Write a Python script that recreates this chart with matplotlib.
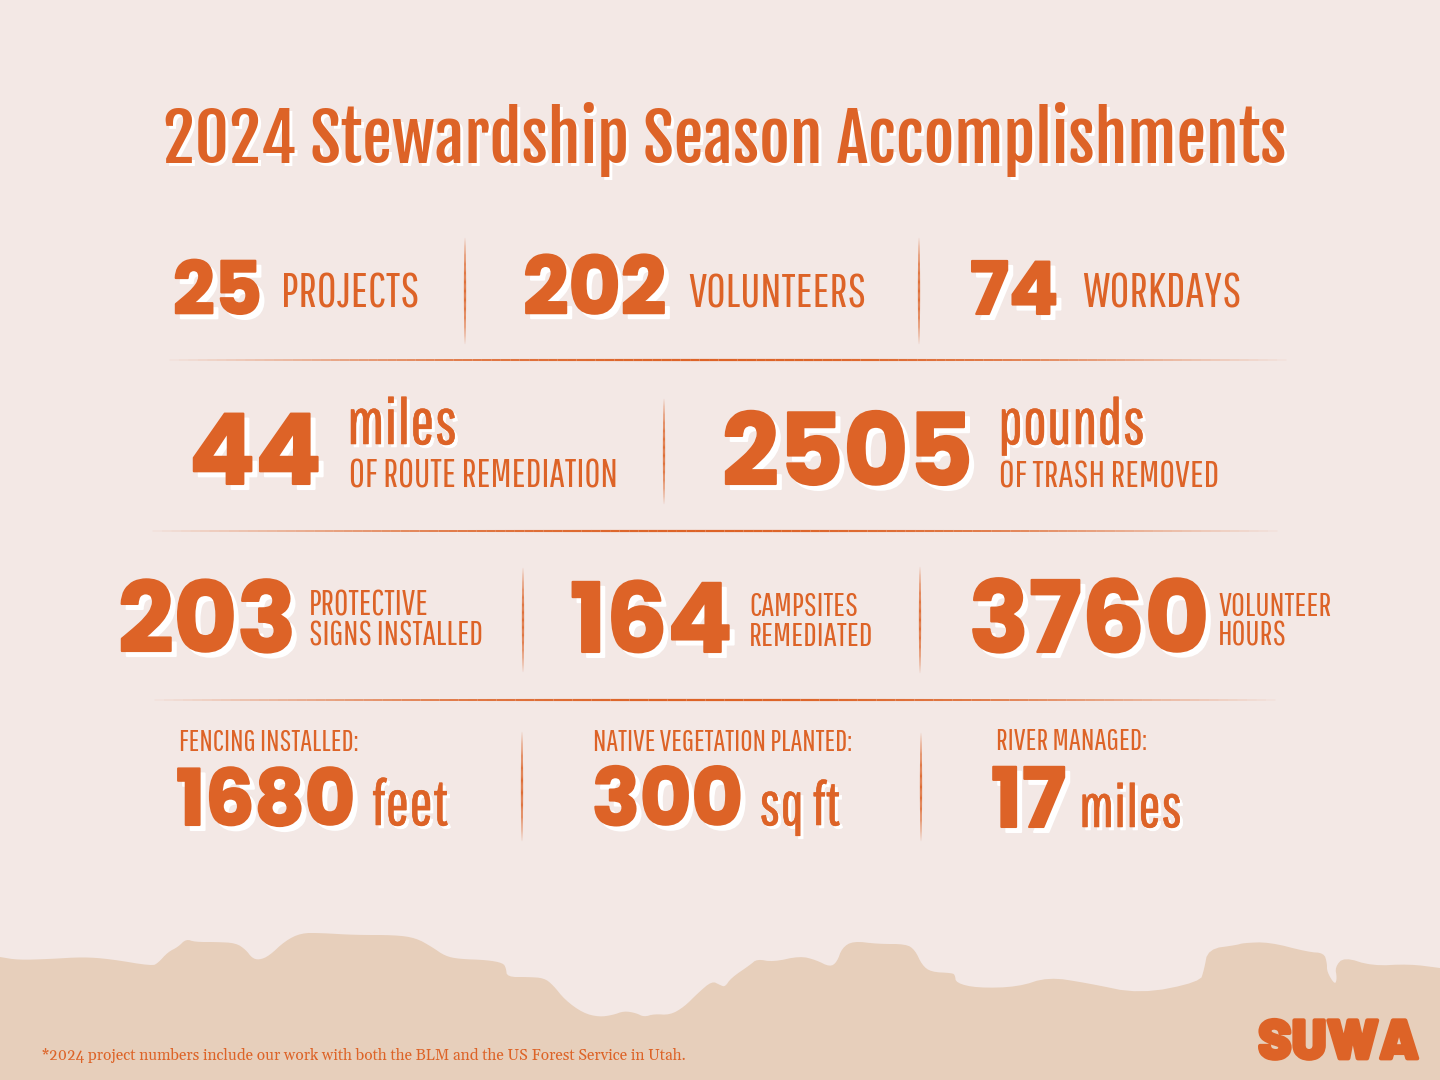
import numpy as np
import matplotlib
matplotlib.use('Agg')
import matplotlib.pyplot as plt
import matplotlib.patheffects as pe
from matplotlib.collections import LineCollection

BG = '#F3E8E5'
RIDGE = '#E7CFBB'
ORANGE = '#DD6327'
HEAVY = ['Poppins', 'DejaVu Sans']
NARROW = ['Pathway Gothic One', 'DejaVu Sans']
TITLE = ['Fjalla One', 'DejaVu Sans']
SERIF = ['Gelasio', 'Liberation Serif']
LOGO = ['Barlow', 'Poppins', 'DejaVu Sans']

title = '2024 Stewardship Season Accomplishments'
footnote = '*2024 project numbers include our work with both the BLM and the US Forest Service in Utah.'

# big numbers
numbers = ['25', '202', '74', '44', '2505', '203', '164', '3760', '1680', '300', '17']
number_x0 = [173, 523, 970, 189, 722, 118, 570, 969, 176, 592, 991]
number_x1 = [262, 666, 1058, 321, 973, 296, 732, 1209, 355, 743, 1066]
number_y = [314, 314, 314, 484, 485, 652, 652, 652, 825, 825, 827]

# narrow labels
labels = ['PROJECTS', 'VOLUNTEERS', 'WORKDAYS', 'miles', 'OF ROUTE REMEDIATION', 'pounds',
          'OF TRASH REMOVED', 'PROTECTIVE', 'SIGNS INSTALLED', 'CAMPSITES', 'REMEDIATED',
          'VOLUNTEER', 'HOURS', 'FENCING INSTALLED:', 'NATIVE VEGETATION PLANTED:',
          'RIVER MANAGED:', 'feet', 'sq ft', 'miles']
label_x0 = [281, 688, 1082, 347, 349, 998, 999, 309, 309, 749, 749, 1218, 1218, 179, 593, 996, 372, 759, 1079]
label_x1 = [419, 866, 1241, 457, 616, 1145, 1219, 428, 483, 858, 873, 1331, 1287, 359, 852, 1147, 448, 840, 1182]
label_y = [307, 307, 307, 444, 487, 444, 487, 616, 646, 616, 646, 616, 646, 751, 751, 750, 825, 825, 827]

# divider lines
vline_x = [465, 919, 664, 523, 920, 522, 921]
vline_y0 = [237, 237, 398, 567, 566, 731, 732]
vline_y1 = [345, 345, 505, 673, 674, 842, 842]
hline_y = [360, 531, 700]
hline_x0 = [160, 143, 145]
hline_x1 = [1296, 1287, 1285]

# top edge of the rock silhouette
ridge_x = [0, 18, 50, 83, 110, 152, 158, 168, 178, 186, 195, 216, 236, 246, 252, 259, 269, 285, 301, 321,
           354, 395, 416, 432, 445, 459, 487, 503, 506, 507, 528, 544, 553, 565, 583, 599, 613, 624, 636,
           644, 654, 670, 684, 698, 712, 720, 725, 731, 750, 757, 773, 800, 816, 830, 837, 842, 853, 878,
           906, 915, 922, 931, 952, 955, 956, 977, 1018, 1048, 1087, 1140, 1200, 1204, 1208, 1237, 1243,
           1269, 1308, 1324, 1327, 1327, 1335, 1337, 1335, 1344, 1372, 1409, 1440]
ridge_y = [957, 960, 959, 957, 959, 966, 963, 952, 947, 939, 942, 942, 943, 950, 958, 960, 956, 941, 933, 933,
           935, 935, 938, 947, 956, 959, 960, 963, 968, 977, 977, 978, 985, 1000, 1013, 1017, 1015, 1011, 1013,
           1017, 1014, 1015, 1007, 993, 981, 985, 987, 978, 965, 959, 962, 956, 960, 967, 962, 948, 941, 944,
           944, 950, 965, 972, 973, 975, 983, 988, 987, 977, 983, 994, 982, 970, 949, 945, 943,
           942, 952, 953, 963, 972, 985, 978, 967, 957, 966, 964, 968]


def smooth(x, y, rounds=2):
    # corner cutting so the ridge is not angular
    pts = np.column_stack([x, y]).astype(float)
    for _ in range(rounds):
        a = pts[:-1] * 0.75 + pts[1:] * 0.25
        b = pts[:-1] * 0.25 + pts[1:] * 0.75
        mid = np.empty((a.shape[0] * 2, 2))
        mid[0::2] = a
        mid[1::2] = b
        pts = np.vstack([pts[0], mid, pts[-1]])
    return pts[:, 0], pts[:, 1]


fig = plt.figure(figsize=(14.4, 10.8), dpi=100, facecolor=BG)
ax = fig.add_axes([0, 0, 1, 1])
ax.set_xlim(0, 1440)
ax.set_ylim(1080, 0)
ax.axis('off')
renderer = fig.canvas.get_renderer()


def fit_text(s, x0, x1, y, family, weight='normal', shadow=3, bold=0.0, size=30):
    # font size is picked so the text spans x0..x1
    t = ax.text(x0, y, s, family=family, weight=weight, color=ORANGE, fontsize=size, va='baseline', ha='left', zorder=4)
    w = t.get_window_extent(renderer).width
    t.set_fontsize(size * (x1 - x0) / w)
    if bold:
        t.set_path_effects([pe.withStroke(linewidth=bold, foreground=ORANGE)])
    if shadow:
        ax.text(x0 + shadow, y + shadow, s, family=family, weight=weight, color='white',
                fontsize=t.get_fontsize(), va='baseline', ha='left', zorder=3,
                path_effects=[pe.withStroke(linewidth=bold, foreground='white')] if bold else None)
    return t


def fade_line(x0, y0, x1, y1, lw=1.6):
    n = 120
    xs = np.linspace(x0, x1, n + 1)
    ys = np.linspace(y0, y1, n + 1)
    segs = np.stack([np.column_stack([xs[:-1], ys[:-1]]), np.column_stack([xs[1:], ys[1:]])], axis=1)
    fade = np.sin(np.linspace(0, np.pi, n)) ** 0.7
    colors = [matplotlib.colors.to_rgba(ORANGE, a) for a in fade]
    lc = LineCollection(segs, colors=colors, linewidths=lw * (0.4 + 0.6 * fade), zorder=2, capstyle='butt')
    lc.set_snap(False)
    ax.add_collection(lc)


rx, ry = smooth(ridge_x, ridge_y)
ax.fill_between(rx, ry, 1080, color=RIDGE, lw=0, zorder=1)

fit_text(title, 163, 1284, 163, TITLE, shadow=3)

for s, x0, x1, y in zip(numbers, number_x0, number_x1, number_y):
    fit_text(s, x0, x1, y, HEAVY, weight='bold', shadow=5, bold=1.5)

for s, x0, x1, y in zip(labels, label_x0, label_x1, label_y):
    has_shadow = s in ('miles', 'pounds', 'feet', 'sq ft')
    fit_text(s, x0, x1, y, NARROW, shadow=3 if has_shadow else 0, bold=0.4 if has_shadow else 0)

for x, y0, y1 in zip(vline_x, vline_y0, vline_y1):
    fade_line(x, y0, x, y1)
for y, x0, x1 in zip(hline_y, hline_x0, hline_x1):
    fade_line(x0, y, x1, y)

fit_text(footnote, 42, 686, 1060, SERIF, shadow=0)

# logo
fit_text('SUWA', 1258, 1419, 1059, LOGO, weight=900, shadow=0, bold=2.0)

fig.savefig('out.png', dpi=100, facecolor=BG)
